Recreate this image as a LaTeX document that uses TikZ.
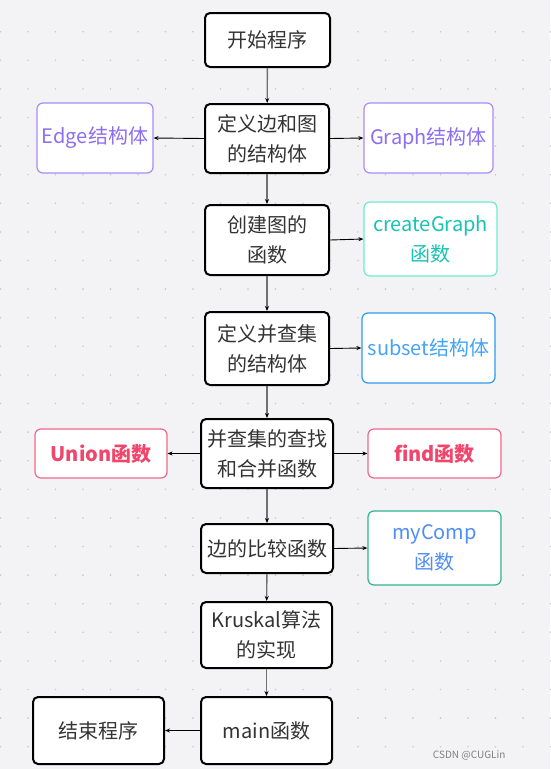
\documentclass[tikz,border=0pt]{standalone}
\usepackage{fontspec}
\setmainfont{Noto Sans CJK SC}
\usetikzlibrary{arrows.meta}
\definecolor{bgcol}{HTML}{F3F3F5}
\definecolor{dotcol}{HTML}{C9C9CE}
\definecolor{textgrey}{HTML}{333333}
\definecolor{linegrey}{HTML}{707070}
\definecolor{purpleline}{HTML}{A78DF8}
\definecolor{purpletext}{HTML}{8C6EF3}
\definecolor{tealline}{HTML}{6FEBCF}
\definecolor{tealtext}{HTML}{16C3B4}
\definecolor{blueline}{HTML}{2E9BF0}
\definecolor{bluetext}{HTML}{45A4F7}
\definecolor{redline}{HTML}{F2688A}
\definecolor{redtext}{HTML}{F0456C}
\definecolor{greenline}{HTML}{2FB48C}
\definecolor{comptext}{HTML}{4F8EF6}

\begin{document}
\begin{tikzpicture}[x=1pt,y=-1pt,
  stepbox/.style={draw=black, line width=2pt, rounded corners=5pt, fill=white,
    text=textgrey, align=center, inner sep=0pt, font=\fontsize{20}{30}\selectfont},
  sidebox/.style={line width=1.2pt, rounded corners=6pt, fill=white,
    align=center, inner sep=0pt, font=\fontsize{20}{30}\selectfont},
  flow/.style={draw=linegrey, line width=1.4pt, -{Stealth[length=5pt,width=4pt,color=black]}},
  link/.style={draw=black, line width=0.9pt, -{Stealth[length=5pt,width=4pt]}}]
\fill[bgcol] (0,0) rectangle (550,769);
\useasboundingbox (0,0) rectangle (550,769);
% dotted grid
\foreach \i in {0,...,20}
  \foreach \j in {0,...,25}
    \fill[dotcol] (0.5+27.5*\i, 31.7+28.6*\j) circle (0.9);

% main column
\node[stepbox, minimum width=125, minimum height=54] (start) at (267.5,40) {开始程序};
\node[stepbox, minimum width=124, minimum height=69] (defgraph) at (267,138.5) {定义边和图\\的结构体};
\node[stepbox, minimum width=124, minimum height=70] (create) at (267,240) {创建图的\\函数};
\node[stepbox, minimum width=124, minimum height=73] (defset) at (267,348.5) {定义并查集\\的结构体};
\node[stepbox, minimum width=132, minimum height=69] (unifind) at (267,453.5) {并查集的查找\\和合并函数};
\node[stepbox, minimum width=132, minimum height=49] (compare) at (267,548.5) {边的比较函数};
\node[stepbox, minimum width=131, minimum height=66] (kruskal) at (266.5,635) {Kruskal算法\\的实现};
\node[stepbox, minimum width=131, minimum height=67] (mainfn) at (266.5,730.5) {main函数};
\node[stepbox, minimum width=131, minimum height=67] (finish) at (98.5,730.5) {结束程序};

% side boxes
\node[sidebox, draw=purpleline, text=purpletext, minimum width=116, minimum height=70] (edge) at (95,138) {Edge结构体};
\node[sidebox, draw=purpleline, text=purpletext, minimum width=129, minimum height=70] (graph) at (428.5,138) {Graph结构体};
\node[sidebox, draw=tealline, text=tealtext, minimum width=133, minimum height=74] (cgraph) at (430.5,239) {createGraph\\函数};
\node[sidebox, draw=blueline, text=bluetext, minimum width=133, minimum height=70] (subset) at (428.5,348) {subset结构体};
\node[sidebox, draw=redline, text=redtext, minimum width=132, minimum height=49, font=\fontsize{20}{30}\selectfont\bfseries] (union) at (101,453.5) {Union函数};
\node[sidebox, draw=redline, text=redtext, minimum width=133, minimum height=49, font=\fontsize{20}{30}\selectfont\bfseries] (find) at (434.5,453.5) {find函数};
\node[sidebox, draw=greenline, text=comptext, minimum width=133, minimum height=74] (mycomp) at (434.5,548) {myComp\\函数};

% flow down the column
\draw[flow] (start) -- (defgraph);
\draw[flow] (defgraph) -- (create);
\draw[flow] (create) -- (defset);
\draw[flow] (defset) -- (unifind);
\draw[flow] (unifind) -- (compare);
\draw[flow] (compare) -- (kruskal);
\draw[flow] (kruskal) -- (mainfn);

% side links
\draw[link] (defgraph.west) -- (edge.east);
\draw[link] (defgraph.east) -- (graph.west);
\draw[link] (create.east) -- (cgraph.west);
\draw[link] (defset.east) -- (subset.west);
\draw[link] (unifind.west) -- (union.east);
\draw[link] (unifind.east) -- (find.west);
\draw[link] (compare.east) -- (mycomp.west);
\draw[link] (mainfn.west) -- (finish.east);

\node[text=gray, font=\fontsize{10}{12}\selectfont, anchor=east] (mark) at (509,755) {CSDN @CUGLin};
\end{tikzpicture}
\end{document}
